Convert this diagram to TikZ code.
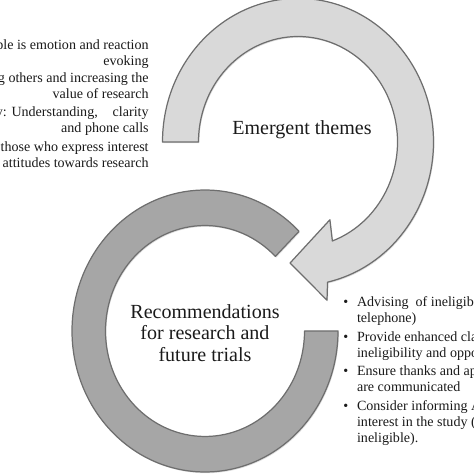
\documentclass[tikz,border=0pt]{standalone}
\usepackage{fontspec}
\setmainfont{Liberation Serif}
\usetikzlibrary{positioning, shadows}
\definecolor{ThemeGray}{HTML}{D9D9D9}
\definecolor{RecGray}{HTML}{A6A6A6}
\definecolor{RimLine}{HTML}{6E6E6E}
\definecolor{nInk}{HTML}{1A1A1A}
\tikzset{
  ring/.style={draw=RimLine, line width=0.7pt, line join=round,
    drop shadow={shadow xshift=0.5pt, shadow yshift=-0.7pt, opacity=0.25}},
  sidetext/.style={font=\fontsize{8}{9.1}\selectfont, text=nInk, inner sep=0pt},
  hubtext/.style={font=\fontsize{11.4}{12.4}\selectfont, text=nInk, align=center}
}

\begin{document}
\begin{tikzpicture}[x=0.2mm, y=0.2mm]
  \useasboundingbox (0,0) rectangle (474,474);
  \clip (0,0) rectangle (474,474);
  \begin{scope}[shift={(205,143)}, yscale=1.06]
    \path[ring, fill=RecGray] (45:133) arc[start angle=45, end angle=360, radius=133]
      -- (0:99.5) arc[start angle=360, end angle=45, radius=99.5] -- cycle;
  \end{scope}
  \begin{scope}[shift={(298,332)}, yscale=1.06]
    \path[ring, fill=ThemeGray] (180:135.5) arc[start angle=180, end angle=-77.4, radius=135.5]
      -- (-79:152) -- (-94:114.5) -- (-66.5:80) -- (-69.8:99.5)
      arc[start angle=-69.8, end angle=180, radius=99.5] -- cycle;
  \end{scope}
  \node[hubtext] (themes) at (302,344) {Emergent themes};
  \node[hubtext] (recs) at (205,141) {Recommendations\\for research and\\future trials};
  \node[sidetext, align=right, anchor=north east] (findings) at (149,435) {%
    ple is emotion and reaction\\evoking\\[1pt]
    g others and increasing the\\value of research\\[1pt]
    y: Understanding,\hspace{8.5pt}clarity\\and phone calls\\[1.5pt]
    those who express interest\\attitudes towards research};
  \node[sidetext, anchor=north west] (advice) at (343,179) {%
    \begin{tabular}{@{}l@{\hspace{5pt}}l@{}}
      \textbullet & Advising\hspace{4pt}of ineligibi\\
                  & telephone)\\[1.5pt]
      \textbullet & Provide enhanced cla\\
                  & ineligibility and oppo\\[1.5pt]
      \textbullet & Ensure thanks and ap\\
                  & are communicated\\[1.5pt]
      \textbullet & Consider informing A\\
                  & interest in the study (\\
                  & ineligible).
    \end{tabular}};
\end{tikzpicture}
\end{document}
